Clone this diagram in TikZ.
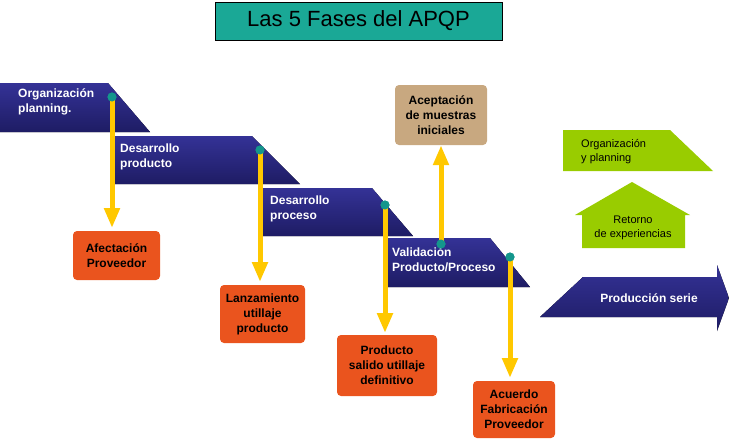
\documentclass[tikz,border=0pt]{standalone}
\usepackage{fontspec}
\setmainfont{Liberation Sans}
\usetikzlibrary{arrows.meta}
\definecolor{phaseblue}{RGB}{52,50,150}
\definecolor{phasedark}{RGB}{30,28,100}
\definecolor{boxorange}{RGB}{234,84,30}
\definecolor{boxtan}{RGB}{200,168,128}
\definecolor{arrowyellow}{RGB}{255,200,0}
\definecolor{dotteal}{RGB}{20,150,140}
\definecolor{titleteal}{RGB}{26,168,150}
\definecolor{leafgreen}{RGB}{153,204,0}

\begin{document}
\begin{tikzpicture}[x=1pt, y=-1pt]
\tikzset{phase/.style={top color=phaseblue, bottom color=phasedark, draw=none},
  phasetxt/.style={anchor=north west, align=left, text=white, font=\bfseries\fontsize{12}{15}\selectfont, inner sep=0pt},
  obox/.style={rectangle, rounded corners=4pt, fill=boxorange, align=center, font=\bfseries\fontsize{12}{15}\selectfont, inner sep=0pt},
  gtxt/.style={align=left, font=\fontsize{11}{14}\selectfont, inner sep=0pt},
  yarrow/.style={draw=arrowyellow, line width=5pt, -{Triangle[width=15pt,length=20pt]}},
  tdot/.style={circle, fill=dotteal, minimum size=9pt, inner sep=0pt}}
\useasboundingbox (0,0) rectangle (729,440);

% titulo
\node (title) [draw=black, fill=titleteal, minimum width=287pt, minimum height=38pt, font=\fontsize{22}{26}\selectfont] at (358.5,21) {Las 5 Fases del APQP};

% fases
\fill[phase] (0,83) -- (108,83) -- (150,132) -- (0,132) -- cycle;
\fill[phase] (113,136) -- (252,136) -- (300,184) -- (113,184) -- cycle;
\fill[phase] (263,188) -- (372,188) -- (413,236) -- (263,236) -- cycle;
\fill[phase] (386,238) -- (490,238) -- (530,287) -- (386,287) -- cycle;
\fill[phase] (540,317) -- (583,277) -- (717,277) -- (717,265) -- (729,298) -- (717,331) -- (717,317) -- cycle;
\node (f1) [phasetxt] at (18,88) {Organización\\planning.};
\node (f2) [phasetxt] at (120,144) {Desarrollo\\producto};
\node (f3) [phasetxt] at (270,196) {Desarrollo\\proceso};
\node (f4) [phasetxt] at (392,247) {Validación\\Producto/Proceso};
\node (f5) [text=white, font=\bfseries\fontsize{12}{15}\selectfont] at (649,298) {Producción serie};

% verdes
\fill[leafgreen] (563,130) -- (670,130) -- (713,171) -- (563,171) -- cycle;
\fill[leafgreen] (582,248) -- (582,215) -- (575,215) -- (632,182) -- (690,215) -- (685,215) -- (685,248) -- cycle;
\node (org) [gtxt, anchor=north west] at (581,139) {Organización\\y planning};
\node (ret) [gtxt, align=center] at (633,228) {Retorno\\de experiencias};

% cajas
\node (acep) [obox, fill=boxtan, minimum width=92pt, minimum height=60pt] at (441,115) {Aceptación\\de muestras\\iniciales};
\node (afec) [obox, minimum width=87pt, minimum height=49pt] at (116.5,255.5) {Afectación\\Proveedor};
\node (lanz) [obox, minimum width=85pt, minimum height=58pt] at (262.5,314) {Lanzamiento\\utillaje\\producto};
\node (prod) [obox, minimum width=100pt, minimum height=61pt] at (387,365.5) {Producto\\salido utillaje\\definitivo};
\node (acue) [obox, minimum width=82pt, minimum height=57pt] at (514,409.5) {Acuerdo\\Fabricación\\Proveedor};

% flechas
\node (d1) [tdot] at (112,97) {};
\node (d2) [tdot] at (260,150) {};
\node (d3) [tdot] at (385,205) {};
\node (d4) [tdot] at (510,257) {};
\node (d5) [tdot] at (441,244) {};
\begin{scope}[on background layer/.style={}]
\draw[yarrow] (d1.center) -- (112,228) coordinate (e1);
\draw[yarrow] (d2.center) -- (260,282) coordinate (e2);
\draw[yarrow] (d3.center) -- (385,333) coordinate (e3);
\draw[yarrow] (d4.center) -- (510,378) coordinate (e4);
\draw[yarrow] (d5.center) -- (acep.south);
\end{scope}
\node[tdot] at (d1) {};
\node[tdot] at (d2) {};
\node[tdot] at (d3) {};
\node[tdot] at (d4) {};
\node[tdot] at (d5) {};
\end{tikzpicture}
\end{document}
